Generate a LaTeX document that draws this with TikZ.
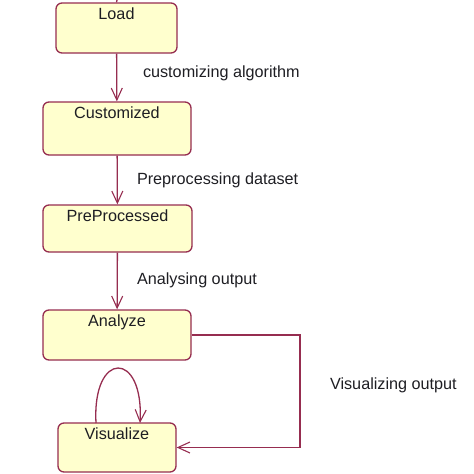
\documentclass[tikz,border=0pt]{standalone}
\usepackage{fontspec}
\setmainfont{Liberation Sans}
\usetikzlibrary{arrows.meta}

\definecolor{edgered}{RGB}{150,45,80}
\definecolor{boxfill}{RGB}{255,255,206}
\definecolor{inkgray}{RGB}{30,30,35}

\tikzset{
  statebox/.style={draw=edgered, fill=boxfill, line width=1.3pt, rounded corners=6pt, inner sep=0pt},
  flow/.style={draw=edgered, line width=1.3pt, -{Straight Barb[length=12pt,width=11pt,line width=1.1pt]}},
  steptext/.style={text=inkgray, font=\fontsize{16.2}{19}\selectfont}
}

\begin{document}
\begin{tikzpicture}[x=1pt, y=-1pt]
    \useasboundingbox (0,0) rectangle (474,474);
    % states
    \node[statebox, minimum width=121, minimum height=50, label={[steptext, anchor=north, inner sep=5pt]north:Load}] (load) at (116.5,28) {};
    \node[statebox, minimum width=148, minimum height=53, label={[steptext, anchor=north, inner sep=5pt]north:Customized}] (customized) at (117,128.5) {};
    \node[statebox, minimum width=149, minimum height=47, label={[steptext, anchor=north, inner sep=5pt]north:PreProcessed}] (preprocessed) at (117.5,228.5) {};
    \node[statebox, minimum width=148, minimum height=50, label={[steptext, anchor=north, inner sep=5pt]north:Analyze}] (analyze) at (117,335) {};
    \node[statebox, minimum width=118, minimum height=49, label={[steptext, anchor=north, inner sep=5pt]north:Visualize}] (visualize) at (117,447.5) {};
    % transition labels
    \node[steptext, anchor=west] (custlabel) at (139.5,73) {customizing algorithm};
    \node[steptext, anchor=west] (preplabel) at (133.5,180) {Preprocessing dataset};
    \node[steptext, anchor=west] (analabel) at (133.5,280) {Analysing output};
    \node[steptext, anchor=west] (vislabel) at (326.5,385) {Visualizing output};
    % transitions
    \coordinate (top) at (117,0);
    \coordinate (turn) at (300,335);
    \coordinate (loopstart) at (96,423);
    \coordinate (loopend) at (140,423);
    \draw[draw=edgered, line width=1.3pt] (top) -- (load.north);
    \draw[flow] (load) -- (customized);
    \draw[flow] (customized) -- (preprocessed);
    \draw[flow] (preprocessed) -- (analyze);
    \draw[flow] (analyze.east) -- (turn) |- (visualize.east);
    \draw[flow] (loopstart) .. controls (92,350) and (144,350) .. (loopend);
\end{tikzpicture}
\end{document}
